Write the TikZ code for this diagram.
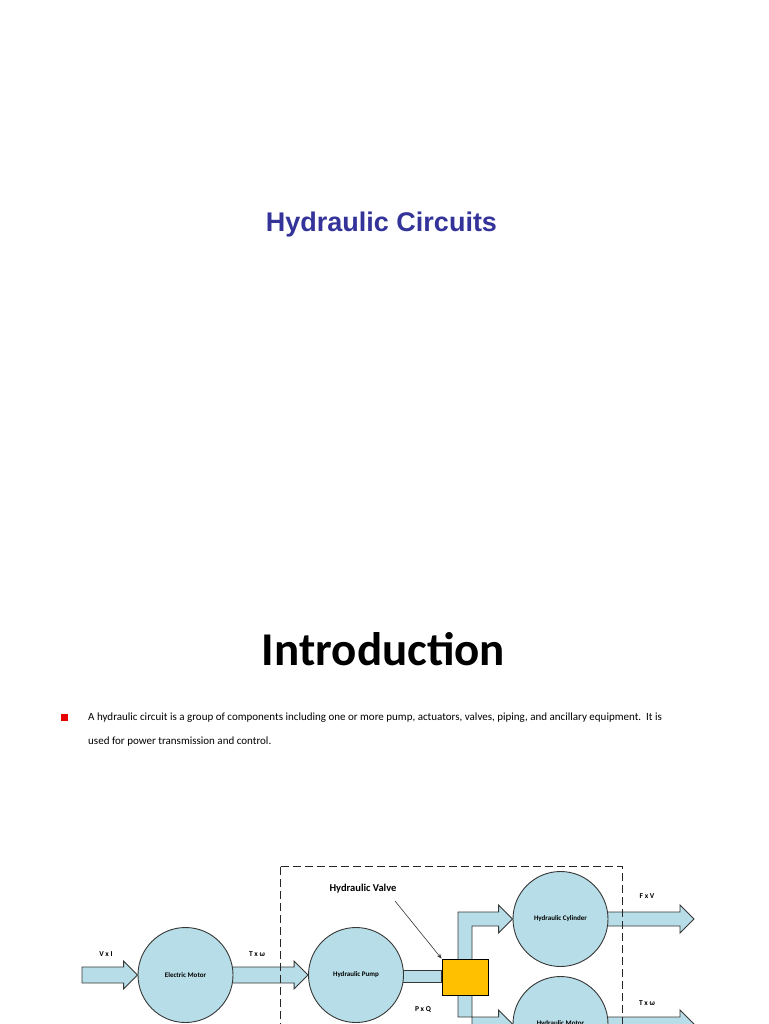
\documentclass[tikz,border=0pt]{standalone}
\usepackage{fontspec}
\setmainfont{Carlito}
\newfontfamily\arialf{Liberation Sans}
\usetikzlibrary{calc,arrows.meta}
\definecolor{pipefill}{RGB}{183,222,232}
\definecolor{edgegray}{RGB}{55,55,55}
\definecolor{titleblue}{RGB}{51,51,153}
\definecolor{valvey}{RGB}{255,192,0}
\definecolor{bulletred}{RGB}{230,0,0}
\pgfdeclarelayer{bg}
\pgfsetlayers{bg,main}
% straight block arrow: #1 start, #2 tip, #3 shaft half width, #4 head half width
\newcommand\blockarrow[4]{%
  \draw[pipe] let \p1=(#1),\p2=(#2) in
    (\x2,\y2) -- (\x2-14pt,\y2+#4pt) -- (\x2-14pt,\y2+#3pt) -- (\x1,\y2+#3pt)
    -- (\x1,\y2-#3pt) -- (\x2-14pt,\y2-#3pt) -- (\x2-14pt,\y2-#4pt) -- cycle;}
% bent block arrow from a vertical channel at #1 to tip #2
\newcommand\bentarrow[2]{%
  \draw[pipe] let \p1=(#1),\p2=(#2) in
    (\x1-7pt,\y1) -- (\x1-7pt,\y2+7pt) -- (\x2-14pt,\y2+7pt) -- (\x2-14pt,\y2+14pt)
    -- (\x2,\y2) -- (\x2-14pt,\y2-14pt) -- (\x2-14pt,\y2-7pt) -- (\x1+7pt,\y2-7pt)
    -- (\x1+7pt,\y1) -- cycle;}
\begin{document}
\begin{tikzpicture}[x=1pt,y=-1pt,
  pipe/.style={fill=pipefill,draw=edgegray,line width=0.9pt,line join=miter},
  unit/.style={circle,fill=pipefill,draw=edgegray,line width=0.9pt,minimum size=95pt,
    inner sep=0pt,font=\bfseries\fontsize{7}{8}\selectfont},
  valvebox/.style={rectangle,fill=valvey,draw=black,line width=0.9pt,
    minimum width=46pt,minimum height=36pt,inner sep=0pt},
  qty/.style={font=\bfseries\fontsize{7.5}{8}\selectfont,inner sep=0pt},
  body/.style={font=\fontsize{11}{12}\selectfont,inner sep=0pt,anchor=base west},
  dashbox/.style={draw=black!85,line width=1pt,dash pattern=on 8pt off 4pt},
  callout/.style={draw=edgegray,line width=0.6pt,-{Stealth[length=5pt,width=4pt]}}]
\useasboundingbox (0,0) rectangle (768,1024);
\clip (0,0) rectangle (768,1024);

% titles
\node[font=\arialf\bfseries\fontsize{27}{30}\selectfont,text=titleblue,inner sep=0pt,anchor=base]
  (title) at (381.5,232) {Hydraulic Circuits};
\node[font=\bfseries\fontsize{47}{52}\selectfont,inner sep=0pt,anchor=base]
  (intro) at (383.5,665) {Introduction};

% bullet
\node[fill=bulletred,minimum size=7pt,inner sep=0pt] (bul) at (64.5,717.5) {};
\node[body] (l1) at (88,720) {A hydraulic circuit is a group of components including one or more pump, actuators, valves, piping, and ancillary equipment.\ \ It is};
\node[body] (l2) at (88,744) {used for power transmission and control.};

% dashed boundary
\draw[dashbox] (280.5,866.5) -- (622,866.5) -- (622,1100);
\draw[dashbox] (280.5,866.5) -- (280.5,1100);

% components
\node[unit] (em) at (185.5,975) {Electric Motor};
\node[unit] (hp) at (356,975) {Hydraulic Pump};
\node[unit] (hc) at (560.5,919) {Hydraulic Cylinder};
\node[unit] (hm) at (560.5,1024) {Hydraulic Motor};
\node[valvebox] (hv) at (465,977) {};

\coordinate (in) at (82,975);
\coordinate (out1) at (694,919);
\coordinate (out2) at (694,1024);

\begin{pgfonlayer}{bg}
  \blockarrow{in}{em.west}{8}{14}
  \blockarrow{em.center}{hp.west}{8}{14}
  \draw[pipe] ($(hp.center)+(0,-5)$) rectangle ($(hv.west)+(0,5)$);
  \bentarrow{hv.center}{hc.west}
  \bentarrow{hv.center}{hm.west}
  \blockarrow{hc.center}{out1}{7}{14}
  \blockarrow{hm.center}{out2}{7}{14}
\end{pgfonlayer}

% quantity labels
\node[qty] (vi) at (106,954) {V x I};
\node[qty] (tw1) at (257,954) {T x ω};
\node[qty] (pq) at (423,1009) {P x Q};
\node[qty] (fv) at (647,896) {F x V};
\node[qty] (tw2) at (647,1003) {T x ω};

% valve callout
\node[font=\bfseries\fontsize{10.5}{12}\selectfont,inner sep=0pt] (vlabel) at (363,889) {Hydraulic Valve};
\coordinate (vstart) at (395,901);
\draw[callout] (vstart) -- (hv.north west);
\end{tikzpicture}
\end{document}
